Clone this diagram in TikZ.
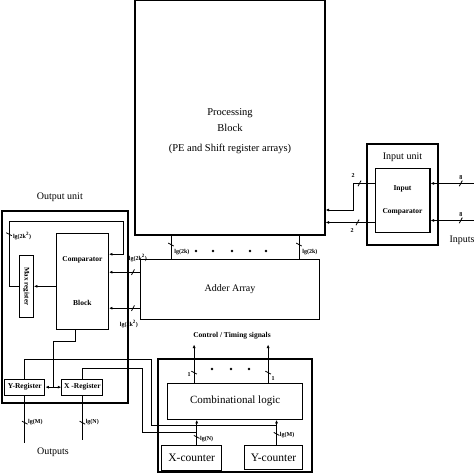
\documentclass[tikz,border=0pt]{standalone}
\usepackage{fontspec}
\setmainfont{Liberation Serif}
\usetikzlibrary{positioning, fit, arrows.meta, decorations.markings}

\begin{document}
\begin{tikzpicture}[
	x=1pt, y=-1pt,
	block/.style={rectangle, draw, line width=1.1pt, inner sep=0pt},
	unit/.style={rectangle, draw, line width=1.1pt, inner sep=0pt},
	textb/.style={inner sep=0pt},
	mylabel/.style={inner sep=0pt, font=\fontsize{6}{7}\selectfont\bfseries},
	smalltext/.style={font=\fontsize{7.5}{9}\selectfont\bfseries},
	bigtext/.style={font=\fontsize{11.5}{13}\selectfont},
	wire/.style={line width=0.8pt},
	buswidth/.style={postaction={decorate, decoration={markings, mark=at position #1 with {\draw[-, line width=0.8pt] (-1.5pt,-2.8pt) -- (1.5pt,2.8pt);}}}},
	>={Latex[length=3.5pt, width=3pt]}
]

\useasboundingbox (0,0) rectangle (474,475);

\node[block, minimum width=66.8mm, minimum height=82.6mm] (proc) at (230,117.5) {};
\node[textb, align=center, font=\fontsize{10.5}{16}\selectfont] (proctxt) at (230,131) {Processing\\Block\\[4pt](PE and Shift register arrays)};
\node[block, below=8.1mm of proc, minimum width=62.9mm, minimum height=21.1mm] (adder) {Adder Array};
\node[block, left=10.9mm of adder, yshift=2.8mm, minimum width=18.3mm, minimum height=33.7mm, smalltext, align=center] (comp) {Comparator\\[35pt]Block};
\node[block, left=7.7mm of comp, yshift=-1.8mm, minimum width=4.9mm, minimum height=21.8mm] (maxreg) {};
\node[textb, rotate=-90, font=\fontsize{7}{8}\selectfont\bfseries] (maxtxt) at (maxreg) {Max register};
\node[block, below=17.2mm of comp, minimum width=14.4mm, minimum height=5.6mm, smalltext] (xreg) {X -Register};
\node[block, left=5.6mm of xreg, minimum width=14.1mm, minimum height=5.6mm, smalltext] (yreg) {Y-Register};
\node[block, below=22.1mm of adder, xshift=1.8mm, minimum width=47.4mm, minimum height=12.7mm, font=\fontsize{11}{13}\selectfont] (comb) {Combinational logic};
\node[block, below right=8.8mm and -2.1mm of comb.south west, minimum width=21.1mm, minimum height=8.8mm, bigtext] (xcnt) {X-counter};
\node[block, below left=8.8mm and 0mm of comb.south east, minimum width=20.4mm, minimum height=8.4mm, bigtext] (ycnt) {Y-counter};
\node[block, below right=17.7mm and 17.2mm of proc.east, minimum width=19.3mm, minimum height=22.5mm, smalltext, align=center] (incomp) {Input\\[14pt]Comparator};

% unit frames
\coordinate (ou1) at (2,211);
\coordinate (ou2) at (128,403);
\node[unit, fit=(ou1) (ou2)] (outunit) {};
\coordinate (cu1) at (158,359);
\coordinate (cu2) at (312,472);
\node[unit, fit=(cu1) (cu2)] (ctrlunit) {};
\coordinate (iu1) at (367,144);
\coordinate (iu2) at (438,245);
\node[unit, fit=(iu1) (iu2)] (inunit) {};

\node[textb, above=3.2mm of outunit.north, xshift=-1.8mm] (outlbl) {Output unit};
\node[textb, below=3.3mm of inunit.north] (inlbl) {Input unit};
\node[textb] (outputs) at (53,452) {Outputs};
\node[textb] (inputs) at (462,240) {Inputs};
\node[textb, smalltext] (ctlbl) at (232,336) {Control / Timing signals};

% processing block to adder array
\coordinate (p1) at ([xshift=-59pt]proc.south);
\coordinate (p2) at ([xshift=69pt]proc.south);
\draw[wire, buswidth=9pt] (p1) -- node[mylabel, pos=0.7, right=3pt] (lblp1) {lg(2k)} (p1 |- adder.north);
\draw[wire, buswidth=9pt] (p2) -- node[mylabel, pos=0.7, right=3pt] (lblp2) {lg(2k)} (p2 |- adder.north);
\foreach \x in {196,213,232,250,266}
	\fill (\x,251) circle (1.4pt);

% adder array to comparator
\coordinate (a1) at ([yshift=17pt]adder.west);
\coordinate (a2) at ([yshift=-19pt]adder.west);
\draw[wire, ->, buswidth=7pt] (a1) -- (a1 -| comp.east);
\draw[wire, ->, buswidth=7pt] (a2) -- (a2 -| comp.east);
\node[mylabel] (lbla1) at ([xshift=-2pt, yshift=31pt]adder.west) {lg(2k\textsuperscript{2})};
\node[mylabel] (lbla2) at ([xshift=-11pt, yshift=-35pt]adder.west) {lg(2k\textsuperscript{2})};

% max register loop
\coordinate (fb) at (9,221);
\coordinate (fbr) at (123,221);
\coordinate (c3) at ([yshift=27pt]comp.east);
\draw[wire, ->, buswidth=62pt] (maxreg.west) -| (fb) -- (fbr) |- (c3);
\draw[wire, ->] (comp.west |- maxreg) -- (maxreg.east);
\node[mylabel] (lblfb) at ([xshift=13pt, yshift=-15pt]fb) {lg(2k\textsuperscript{2})};

% comparator to registers
\coordinate (cs) at ([xshift=-7pt]comp.south);
\coordinate[left=2.8mm of xreg.west] (split);
\draw[wire] (cs) -- ++(0,12) -| (split);
\draw[wire, ->] (split) -- (yreg);
\draw[wire, ->] (split) -- (xreg);

% register outputs
\coordinate[below=16.5mm of yreg.south] (yout);
\coordinate[below=15.5mm of xreg.south] (xout);
\draw[wire, buswidth=27pt] (yreg.south) -- node[mylabel, pos=0.57, right=3pt] (lblyo) {lg(M)} (yout);
\draw[wire, buswidth=27pt] (xreg.south) -- node[mylabel, pos=0.6, right=3pt] (lblxo) {lg(N)} (xout);

% counters
\coordinate (xc) at ([xshift=5pt]xcnt.north);
\coordinate (yc) at ([xshift=3pt]ycnt.north);
\draw[wire, ->, buswidth=8pt] (xc) -- node[mylabel, pos=0.25, right=3pt] (lblxc) {lg(N)} (xc |- comb.south);
\draw[wire, ->, buswidth=11pt] (yc) -- node[mylabel, pos=0.4, right=3pt] (lblyc) {lg(M)} (yc |- comb.south);

\coordinate (ya) at (151,359);
\coordinate (yb) at (151,425);
\coordinate (xa) at (142,368);
\coordinate (xb) at (142,432);
\draw[wire] (yreg.north) |- (ya) -- (yb) -- (yb -| yc);
\draw[wire] (xreg.north) |- (xa) -- (xb) -- (xb -| xc);

% control / timing outputs
\coordinate (t1) at ([xshift=-41pt]comb.north);
\coordinate (t2) at ([xshift=33pt]comb.north);
\coordinate[above=13.4mm of t1] (t1e);
\coordinate[above=13.4mm of t2] (t2e);
\draw[wire, ->, buswidth=10pt] (t1) -- node[mylabel, pos=0.2, left=3pt] (lblt1) {1} (t1e);
\draw[wire, ->, buswidth=10pt] (t2) -- node[mylabel, pos=0.1, right=3pt] (lblt2) {1} (t2e);
\foreach \x in {212,231,249}
	\fill (\x,369) circle (1.4pt);

% input unit
\coordinate (i1) at ([yshift=17pt]incomp.east);
\coordinate (i2) at ([yshift=-20pt]incomp.east);
\coordinate[right=15.2mm of i1] (in1);
\coordinate[right=15.2mm of i2] (in2);
\draw[wire, ->, buswidth=13pt] (in1) -- node[mylabel, pos=0.3, above=3pt] (lblin1) {8} (i1);
\draw[wire, ->, buswidth=13pt] (in2) -- node[mylabel, pos=0.3, above=3pt] (lblin2) {8} (i2);

\coordinate (o1) at ([yshift=17pt]incomp.west);
\coordinate (o2) at ([yshift=-22pt]incomp.west);
\coordinate (q1) at ([yshift=-92.5pt]proc.east);
\draw[wire, ->, buswidth=15pt] (o1) -- ++(-21,0) |- (q1);
\draw[wire, ->, buswidth=17pt] (o2) -- (o2 -| proc.east);
\node[mylabel] (lblo1) at (353,176) {2};
\node[mylabel] (lblo2) at (352,231) {2};

\end{tikzpicture}
\end{document}
